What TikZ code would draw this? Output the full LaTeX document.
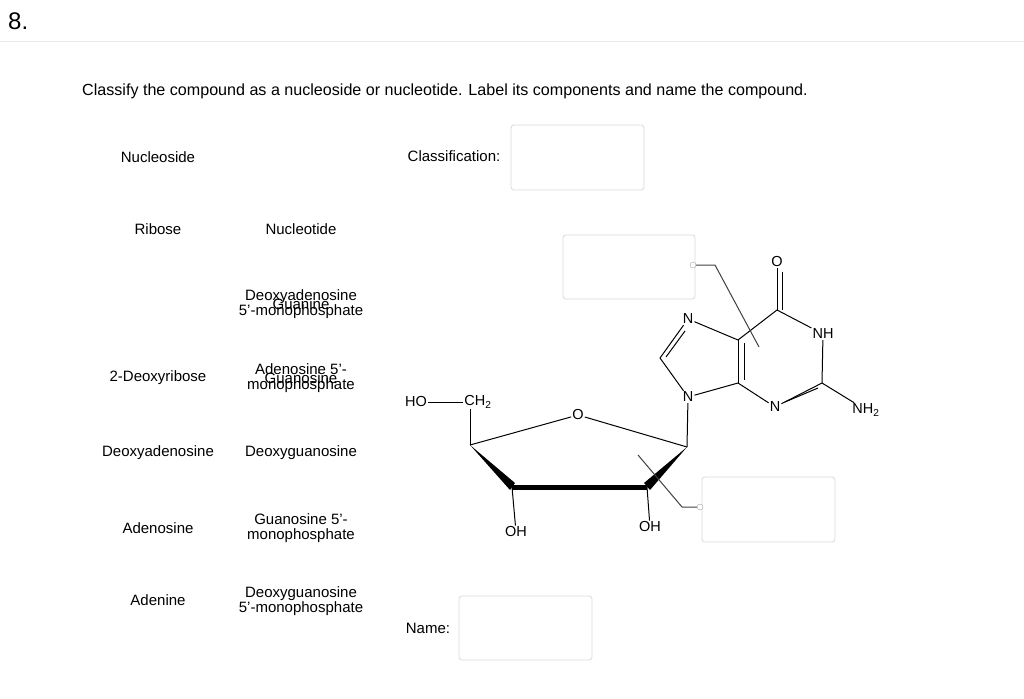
\documentclass[tikz,border=0pt]{standalone}
\usepackage{fontspec}
\setmainfont{Liberation Sans}
\begin{document}
\begin{tikzpicture}[x=1pt,y=-1pt,
  lbl/.style={font=\fontsize{15}{16}\selectfont, align=center, inner sep=0pt},
  atom/.style={font=\fontsize{14.5}{15}\selectfont, inner sep=1pt, fill=white},
  ansbox/.style={draw=black!15, rounded corners=3pt, line width=0.8pt},
  bond/.style={line width=1pt},
  lead/.style={line width=1pt, draw=black!75},
  pin/.style={circle, draw=black!35, fill=white, inner sep=0pt, minimum size=6pt}]
\useasboundingbox (0,0) rectangle (1024,698);
\node[font=\fontsize{24}{26}\selectfont, anchor=west, inner sep=0pt] (num) at (8,21) {8.};
\draw[black!8] (0,41) -- (1024,41);
\node[lbl, font=\fontsize{16.1}{17}\selectfont] (q) at (445,91) {Classify the compound as a nucleoside or nucleotide. Label its components and name the compound.};
% left column
\node[lbl] (t1) at (158,157) {Nucleoside};
\node[lbl] (t2) at (158,229) {Ribose};
\node[lbl] (t3) at (158,378) {2-Deoxyribose};
\node[lbl] (t4) at (158,453) {Deoxyadenosine};
\node[lbl] (t5) at (158,528) {Adenosine};
\node[lbl] (t6) at (158,600) {Adenine};
% middle column
\node[lbl] (m1) at (301,229) {Nucleotide};
\node[lbl] (m2) at (301,304) {Deoxyadenosine\\[-1pt]5'-monophosphate};
\node[lbl] (m2b) at (301,304) {Guanine};
\node[lbl] (m3) at (301,378) {Adenosine 5'-\\[-1pt]monophosphate};
\node[lbl] (m3b) at (301,378) {Guanosine};
\node[lbl] (m4) at (301,453) {Deoxyguanosine};
\node[lbl] (m5) at (301,528) {Guanosine 5'-\\[-1pt]monophosphate};
\node[lbl] (m6) at (301,601) {Deoxyguanosine\\[-1pt]5'-monophosphate};
% answer boxes
\node[lbl] (cl) at (454,156) {Classification:};
\draw[ansbox] (511,125) rectangle (644,190);
\node[lbl] (nm) at (428,628) {Name:};
\draw[ansbox] (459,596) rectangle (592,660);
\draw[ansbox] (563,235) rectangle (695,299);
\draw[ansbox] (702,477) rectangle (835,542);
% molecule atoms
\node[atom] (HO) at (416,402) {HO};
\node[atom] (CH) at (478,402) {CH\textsubscript{2}};
\node[atom] (O4) at (578,415) {O};
\coordinate (C4) at (470,445);
\coordinate (C3) at (512,487);
\coordinate (C2) at (647,487);
\coordinate (C1) at (687,447);
\node[atom] (OH3) at (516,532) {OH};
\node[atom] (OH2) at (650,527) {OH};
\node[atom] (N9) at (688,397) {N};
\coordinate (C8) at (660,358);
\node[atom] (N7) at (688,319) {N};
\coordinate (C5) at (738,340);
\coordinate (C4b) at (738,383);
\coordinate (C6) at (777,310);
\node[atom] (O6) at (777,262) {O};
\node[atom] (N1) at (823,334) {NH};
\coordinate (C2b) at (822,383);
\node[atom] (N3) at (775,407) {N};
\node[atom] (NH2) at (866,410) {NH\textsubscript{2}};
% bonds
\draw[bond] (HO) -- (CH);
\draw[bond] (470,409) -- (C4);
\draw[bond] (C4) -- (O4);
\draw[bond] (O4) -- (C1);
\fill (C4) -- (510,490) -- (515,483) -- cycle;
\draw[line width=5pt] (C3) -- (C2);
\fill (C1) -- (650,490) -- (644,483) -- cycle;
\draw[bond] (C3) -- (OH3);
\draw[bond] (C2) -- (OH2);
\draw[bond] (C1) -- (N9);
\draw[bond] (N9) -- (C8);
\draw[bond] (C8) -- (N7);
\draw[bond] (666,357) -- (685,331);
\draw[bond] (N7) -- (C5);
\draw[bond] (C5) -- (C4b);
\draw[bond] (744,343) -- (744,380);
\draw[bond] (C4b) -- (N9);
\draw[bond] (C5) -- (C6);
\draw[bond] (C6) -- (O6);
\draw[bond] (782,310) -- (782,272);
\draw[bond] (C6) -- (N1);
\draw[bond] (N1) -- (C2b);
\draw[bond] (C2b) -- (N3);
\draw[bond] (818,388) -- (785,402);
\draw[bond] (N3) -- (C4b);
\draw[bond] (C2b) -- (NH2);
% leader lines
\node[pin] (p1) at (693,265) {};
\node[pin] (p2) at (700,507) {};
\coordinate (k1) at (715,265);
\coordinate (e1) at (759,347);
\coordinate (k2) at (682,507);
\coordinate (e2) at (638,455);
\draw[lead] (p1) -- (k1) -- (e1);
\draw[lead] (p2) -- (k2) -- (e2);
\end{tikzpicture}
\end{document}
